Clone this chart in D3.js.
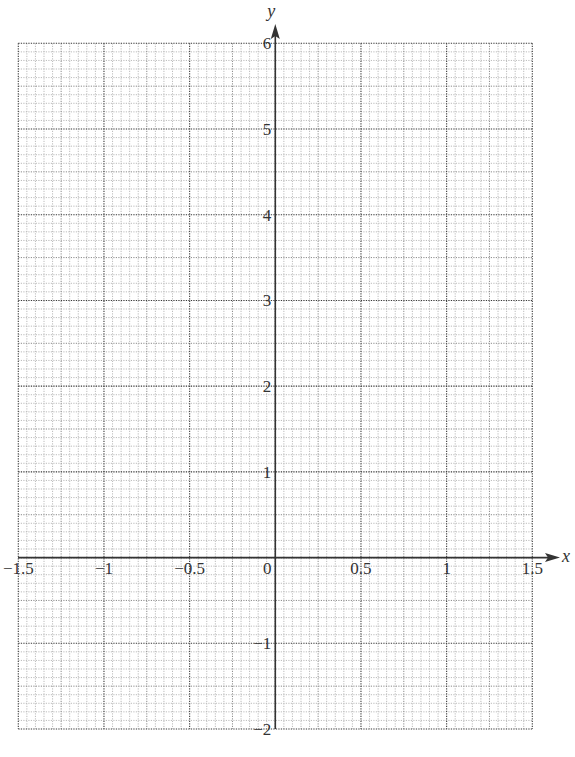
<!DOCTYPE html>
<html>
<head>
<meta charset="utf-8">
<script src="https://cdn.jsdelivr.net/npm/d3@7/dist/d3.min.js"></script>
<style>
  html, body { margin: 0; padding: 0; background: #fff; }
  svg { display: block; }
  .tick-label { font-family: "Liberation Serif", "Times New Roman", serif; font-size: 17px; fill: #333; }
  .axis-name { font-family: "Liberation Serif", "Times New Roman", serif; font-size: 18px; font-style: italic; fill: #333; }
</style>
</head>
<body>
<div id="chart"></div>
<script>
const xDomain = [-1.5, 1.5];
const yDomain = [-2, 6];
const xTicks = [-1.5, -1, -0.5, 0, 0.5, 1, 1.5];
const yTicks = [-2, -1, 1, 2, 3, 4, 5, 6];
const xTickLabels = ['−1.5', '−1', '−0.5', '0', '0.5', '1', '1.5'];
const yTickLabels = ['−2', '−1', '1', '2', '3', '4', '5', '6'];
const xMinorStep = 0.05;
const yMinorStep = 0.1;

const width = 575;
const height = 757;

const x = d3.scaleLinear().domain(xDomain).range([18.3, 532.3]);
const y = d3.scaleLinear().domain(yDomain).range([729, 43.3]);

const svg = d3.select('#chart').append('svg')
  .attr('width', width)
  .attr('height', height);

// graph paper: minor, mid, major levels
const nx = Math.round((xDomain[1] - xDomain[0]) / xMinorStep);
const ny = Math.round((yDomain[1] - yDomain[0]) / yMinorStep);
const gx = d3.range(nx + 1).map((i) => ({ v: xDomain[0] + i * xMinorStep, level: i % 10 === 0 ? 2 : i % 5 === 0 ? 1 : 0 }));
const gy = d3.range(ny + 1).map((i) => ({ v: yDomain[0] + i * yMinorStep, level: i % 10 === 0 ? 2 : i % 5 === 0 ? 1 : 0 }));

const styles = [
  { stroke: '#b4b4b4', width: 0.9, dash: '1.2,1.3' },
  { stroke: '#8a8a8a', width: 1, dash: '1.2,1.3' },
  { stroke: '#3a3a3a', width: 1.1, dash: '1.3,1.2' },
];

const grid = svg.append('g').attr('class', 'grid');
for (const level of [0, 1, 2]) {
  const s = styles[level];
  const lg = grid.append('g')
    .attr('stroke', s.stroke)
    .attr('stroke-width', s.width)
    .attr('stroke-dasharray', s.dash)
    .attr('fill', 'none');
  lg.selectAll('line.v')
    .data(gx.filter((d) => d.level === level))
    .join('line')
    .attr('class', 'v')
    .attr('x1', (d) => x(d.v)).attr('x2', (d) => x(d.v))
    .attr('y1', y(yDomain[1])).attr('y2', y(yDomain[0]));
  lg.selectAll('line.h')
    .data(gy.filter((d) => d.level === level))
    .join('line')
    .attr('class', 'h')
    .attr('y1', (d) => y(d.v)).attr('y2', (d) => y(d.v))
    .attr('x1', x(xDomain[0])).attr('x2', x(xDomain[1]));
}

// axes
const axisColor = '#333';
svg.append('line')
  .attr('x1', x(xDomain[0])).attr('x2', 548)
  .attr('y1', y(0)).attr('y2', y(0))
  .attr('stroke', axisColor).attr('stroke-width', 1.6);
svg.append('line')
  .attr('x1', x(0)).attr('x2', x(0))
  .attr('y1', y(yDomain[0])).attr('y2', 34)
  .attr('stroke', axisColor).attr('stroke-width', 1.6);

// arrow heads
svg.append('path')
  .attr('d', `M${560},${y(0)} L${545},${y(0) - 4.5} L${548},${y(0)} L${545},${y(0) + 4.5} Z`)
  .attr('fill', axisColor);
svg.append('path')
  .attr('d', `M${x(0)},${24} L${x(0) - 4.5},${39} L${x(0)},${36} L${x(0) + 4.5},${39} Z`)
  .attr('fill', axisColor);

svg.append('text').attr('class', 'axis-name')
  .attr('x', 566).attr('y', y(0) + 4).attr('text-anchor', 'middle').text('x');
svg.append('text').attr('class', 'axis-name')
  .attr('x', x(0) - 4).attr('y', 17).attr('text-anchor', 'middle').text('y');

// tick labels
svg.append('g').selectAll('text')
  .data(xTicks)
  .join('text')
  .attr('class', 'tick-label')
  .attr('x', (d) => d === 0 ? x(0) - 8 : x(d))
  .attr('y', y(0) + 16)
  .attr('text-anchor', 'middle')
  .text((d, i) => xTickLabels[i]);

svg.append('g').selectAll('text')
  .data(yTicks)
  .join('text')
  .attr('class', 'tick-label')
  .attr('x', x(0) - 4)
  .attr('y', (d) => y(d) + 6)
  .attr('text-anchor', 'end')
  .text((d, i) => yTickLabels[i]);
</script>
</body>
</html>
